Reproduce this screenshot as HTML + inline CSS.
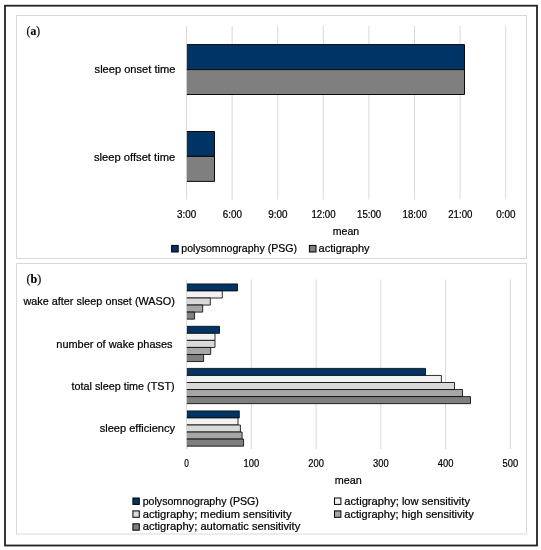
<!DOCTYPE html>
<html lang="en"><head><meta charset="utf-8"><title>Figure</title>
<style>html,body{margin:0;padding:0;background:#fff;}svg{display:block;}text{font-family:"Liberation Sans",sans-serif;fill:#000;stroke:#000;stroke-width:0.22px;}.ser{font-family:"Liberation Serif",serif;fill:#000;stroke-width:0.15px;}</style></head><body>
<svg width="541" height="550" viewBox="0 0 541 550">
<rect x="0" y="0" width="541" height="550" fill="#ffffff"/>
<rect x="5" y="5.7" width="532" height="539.8" fill="none" stroke="#222" stroke-width="1.8"/>
<rect x="16.5" y="15.5" width="510" height="243" fill="#fff" stroke="#d9d9d9" stroke-width="1"/>
<rect x="16.5" y="263.5" width="510" height="270.5" fill="#fff" stroke="#d9d9d9" stroke-width="1"/>
<line x1="186.50" y1="26" x2="186.50" y2="199.5" stroke="#d9d9d9" stroke-width="1"/>
<line x1="232.10" y1="26" x2="232.10" y2="199.5" stroke="#d9d9d9" stroke-width="1"/>
<line x1="277.70" y1="26" x2="277.70" y2="199.5" stroke="#d9d9d9" stroke-width="1"/>
<line x1="323.30" y1="26" x2="323.30" y2="199.5" stroke="#d9d9d9" stroke-width="1"/>
<line x1="368.90" y1="26" x2="368.90" y2="199.5" stroke="#d9d9d9" stroke-width="1"/>
<line x1="414.50" y1="26" x2="414.50" y2="199.5" stroke="#d9d9d9" stroke-width="1"/>
<line x1="460.10" y1="26" x2="460.10" y2="199.5" stroke="#d9d9d9" stroke-width="1"/>
<line x1="505.70" y1="26" x2="505.70" y2="199.5" stroke="#d9d9d9" stroke-width="1"/>
<path d="M186.90 44.60H464.50V69.60H186.90" fill="#003366" stroke="#0a0a0a" stroke-width="1"/>
<path d="M186.90 69.60H464.50V94.50H186.90" fill="#7f7f7f" stroke="#0a0a0a" stroke-width="1"/>
<path d="M186.90 131.50H214.50V156.40H186.90" fill="#003366" stroke="#0a0a0a" stroke-width="1"/>
<path d="M186.90 156.40H214.50V181.40H186.90" fill="#7f7f7f" stroke="#0a0a0a" stroke-width="1"/>
<text x="175.4" y="73.3" font-size="11" text-anchor="end" textLength="80.8" lengthAdjust="spacingAndGlyphs">sleep onset time</text>
<text x="175.2" y="160.7" font-size="11" text-anchor="end" textLength="81.2" lengthAdjust="spacingAndGlyphs">sleep offset time</text>
<text x="186.70" y="217.5" font-size="10" text-anchor="middle" textLength="19.2" lengthAdjust="spacingAndGlyphs">3:00</text>
<text x="232.30" y="217.5" font-size="10" text-anchor="middle" textLength="19.2" lengthAdjust="spacingAndGlyphs">6:00</text>
<text x="277.90" y="217.5" font-size="10" text-anchor="middle" textLength="19.2" lengthAdjust="spacingAndGlyphs">9:00</text>
<text x="323.50" y="217.5" font-size="10" text-anchor="middle" textLength="24.2" lengthAdjust="spacingAndGlyphs">12:00</text>
<text x="369.10" y="217.5" font-size="10" text-anchor="middle" textLength="24.2" lengthAdjust="spacingAndGlyphs">15:00</text>
<text x="414.70" y="217.5" font-size="10" text-anchor="middle" textLength="24.2" lengthAdjust="spacingAndGlyphs">18:00</text>
<text x="460.30" y="217.5" font-size="10" text-anchor="middle" textLength="24.2" lengthAdjust="spacingAndGlyphs">21:00</text>
<text x="505.90" y="217.5" font-size="10" text-anchor="middle" textLength="19.2" lengthAdjust="spacingAndGlyphs">0:00</text>
<text x="346" y="235" font-size="11" text-anchor="middle" textLength="26.4" lengthAdjust="spacingAndGlyphs">mean</text>
<rect x="171.6" y="245.4" width="6.6" height="6.6" fill="#003366" stroke="#000" stroke-width="1"/>
<text x="181.3" y="252" font-size="11" text-anchor="start" textLength="115.7" lengthAdjust="spacingAndGlyphs">polysomnography (PSG)</text>
<rect x="309.4" y="245.4" width="6.6" height="6.6" fill="#7f7f7f" stroke="#000" stroke-width="1"/>
<text x="318.6" y="252" font-size="11" text-anchor="start" textLength="51" lengthAdjust="spacingAndGlyphs">actigraphy</text>
<text x="26.5" y="34.9" font-size="12.6" class="ser" textLength="13.6" lengthAdjust="spacingAndGlyphs">(<tspan font-weight="bold">a</tspan>)</text>
<line x1="186.60" y1="279.5" x2="186.60" y2="449" stroke="#d9d9d9" stroke-width="1"/>
<line x1="251.35" y1="279.5" x2="251.35" y2="449" stroke="#d9d9d9" stroke-width="1"/>
<line x1="316.10" y1="279.5" x2="316.10" y2="449" stroke="#d9d9d9" stroke-width="1"/>
<line x1="380.85" y1="279.5" x2="380.85" y2="449" stroke="#d9d9d9" stroke-width="1"/>
<line x1="445.60" y1="279.5" x2="445.60" y2="449" stroke="#d9d9d9" stroke-width="1"/>
<line x1="510.35" y1="279.5" x2="510.35" y2="449" stroke="#d9d9d9" stroke-width="1"/>
<path d="M186.90 283.90H237.50V290.95H186.90" fill="#003366" stroke="#0a0a0a" stroke-width="0.85"/>
<path d="M186.90 290.95H222.30V298.00H186.90" fill="#f2f2f2" stroke="#0a0a0a" stroke-width="0.85"/>
<path d="M186.90 298.00H210.30V305.05H186.90" fill="#d9d9d9" stroke="#0a0a0a" stroke-width="0.85"/>
<path d="M186.90 305.05H202.70V312.10H186.90" fill="#a6a6a6" stroke="#0a0a0a" stroke-width="0.85"/>
<path d="M186.90 312.10H194.60V319.15H186.90" fill="#7f7f7f" stroke="#0a0a0a" stroke-width="0.85"/>
<path d="M186.90 326.30H219.50V333.35H186.90" fill="#003366" stroke="#0a0a0a" stroke-width="0.85"/>
<path d="M186.90 333.35H215.00V340.40H186.90" fill="#f2f2f2" stroke="#0a0a0a" stroke-width="0.85"/>
<path d="M186.90 340.40H215.00V347.45H186.90" fill="#d9d9d9" stroke="#0a0a0a" stroke-width="0.85"/>
<path d="M186.90 347.45H210.70V354.50H186.90" fill="#a6a6a6" stroke="#0a0a0a" stroke-width="0.85"/>
<path d="M186.90 354.50H203.60V361.55H186.90" fill="#7f7f7f" stroke="#0a0a0a" stroke-width="0.85"/>
<path d="M186.90 368.40H425.50V375.45H186.90" fill="#003366" stroke="#0a0a0a" stroke-width="0.85"/>
<path d="M186.90 375.45H441.40V382.50H186.90" fill="#f2f2f2" stroke="#0a0a0a" stroke-width="0.85"/>
<path d="M186.90 382.50H454.50V389.55H186.90" fill="#d9d9d9" stroke="#0a0a0a" stroke-width="0.85"/>
<path d="M186.90 389.55H462.50V396.60H186.90" fill="#a6a6a6" stroke="#0a0a0a" stroke-width="0.85"/>
<path d="M186.90 396.60H470.50V403.65H186.90" fill="#7f7f7f" stroke="#0a0a0a" stroke-width="0.85"/>
<path d="M186.90 410.90H239.30V417.95H186.90" fill="#003366" stroke="#0a0a0a" stroke-width="0.85"/>
<path d="M186.90 417.95H238.00V425.00H186.90" fill="#f2f2f2" stroke="#0a0a0a" stroke-width="0.85"/>
<path d="M186.90 425.00H240.40V432.05H186.90" fill="#d9d9d9" stroke="#0a0a0a" stroke-width="0.85"/>
<path d="M186.90 432.05H242.10V439.10H186.90" fill="#a6a6a6" stroke="#0a0a0a" stroke-width="0.85"/>
<path d="M186.90 439.10H243.60V446.15H186.90" fill="#7f7f7f" stroke="#0a0a0a" stroke-width="0.85"/>
<text x="174.8" y="305.1" font-size="11" text-anchor="end" textLength="151.3" lengthAdjust="spacingAndGlyphs">wake after sleep onset (WASO)</text>
<text x="172.6" y="347.5" font-size="11" text-anchor="end" textLength="116.3" lengthAdjust="spacingAndGlyphs">number of wake phases</text>
<text x="174.6" y="389.8" font-size="11" text-anchor="end" textLength="103" lengthAdjust="spacingAndGlyphs">total sleep time (TST)</text>
<text x="175" y="432.2" font-size="11" text-anchor="end" textLength="75.3" lengthAdjust="spacingAndGlyphs">sleep efficiency</text>
<text x="186.60" y="466.8" font-size="10" text-anchor="middle" textLength="4.6" lengthAdjust="spacingAndGlyphs">0</text>
<text x="251.35" y="466.8" font-size="10" text-anchor="middle" textLength="15.6" lengthAdjust="spacingAndGlyphs">100</text>
<text x="316.10" y="466.8" font-size="10" text-anchor="middle" textLength="15.6" lengthAdjust="spacingAndGlyphs">200</text>
<text x="380.85" y="466.8" font-size="10" text-anchor="middle" textLength="15.6" lengthAdjust="spacingAndGlyphs">300</text>
<text x="445.60" y="466.8" font-size="10" text-anchor="middle" textLength="15.6" lengthAdjust="spacingAndGlyphs">400</text>
<text x="510.35" y="466.8" font-size="10" text-anchor="middle" textLength="15.6" lengthAdjust="spacingAndGlyphs">500</text>
<text x="348.2" y="483.8" font-size="11" text-anchor="middle" textLength="27" lengthAdjust="spacingAndGlyphs">mean</text>
<rect x="132.90" y="498.00" width="6.4" height="6.4" fill="#003366" stroke="#000" stroke-width="1"/>
<text x="142.70" y="504.6" font-size="11" text-anchor="start" textLength="116.2" lengthAdjust="spacingAndGlyphs">polysomnography (PSG)</text>
<rect x="334.50" y="498.00" width="6.4" height="6.4" fill="#f2f2f2" stroke="#000" stroke-width="1"/>
<text x="344.30" y="504.6" font-size="11" text-anchor="start" textLength="125.7" lengthAdjust="spacingAndGlyphs">actigraphy; low sensitivity</text>
<rect x="132.90" y="510.90" width="6.4" height="6.4" fill="#d9d9d9" stroke="#000" stroke-width="1"/>
<text x="142.70" y="517.5" font-size="11" text-anchor="start" textLength="148.8" lengthAdjust="spacingAndGlyphs">actigraphy; medium sensitivity</text>
<rect x="334.50" y="510.90" width="6.4" height="6.4" fill="#a6a6a6" stroke="#000" stroke-width="1"/>
<text x="344.30" y="517.5" font-size="11" text-anchor="start" textLength="129.4" lengthAdjust="spacingAndGlyphs">actigraphy; high sensitivity</text>
<rect x="132.90" y="523.80" width="6.4" height="6.4" fill="#7f7f7f" stroke="#000" stroke-width="1"/>
<text x="142.70" y="530.4" font-size="11" text-anchor="start" textLength="157.6" lengthAdjust="spacingAndGlyphs">actigraphy; automatic sensitivity</text>
<text x="26.5" y="283" font-size="12.6" class="ser" textLength="14.8" lengthAdjust="spacingAndGlyphs">(<tspan font-weight="bold">b</tspan>)</text>
</svg></body></html>
